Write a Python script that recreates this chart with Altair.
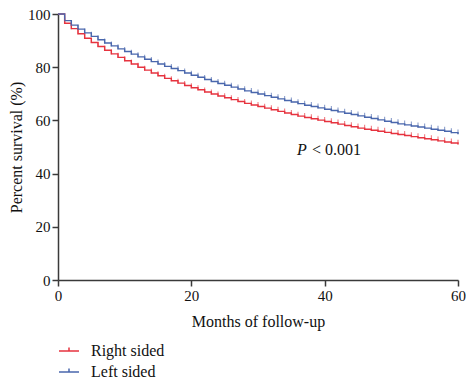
import altair as alt
import pandas as pd

months = list(range(0, 61))

right_sided = [100, 96.5, 94.5, 92.6, 90.9, 89.3, 87.8, 86.4, 85.0, 83.7,
               82.4, 81.2, 80.0, 78.9, 77.8, 76.8, 75.8, 74.9, 74.0, 73.1,
               72.3, 71.5, 70.7, 69.9, 69.2, 68.5, 67.8, 67.1, 66.4, 65.8,
               65.2, 64.6, 64.0, 63.4, 62.8, 62.2, 61.6, 61.1, 60.6, 60.1,
               59.6, 59.1, 58.6, 58.1, 57.6, 57.1, 56.7, 56.3, 55.9, 55.5,
               55.1, 54.7, 54.3, 53.9, 53.5, 53.1, 52.7, 52.3, 51.9, 51.5,
               51.0]

left_sided = [100, 97.5, 95.8, 94.3, 92.9, 91.6, 90.3, 89.1, 88.0, 86.9,
              85.9, 84.9, 83.9, 83.0, 82.1, 81.2, 80.3, 79.5, 78.7, 77.8,
              77.0, 76.2, 75.4, 74.6, 73.9, 73.2, 72.5, 71.8, 71.1, 70.5,
              69.9, 69.3, 68.7, 68.1, 67.5, 66.9, 66.3, 65.7, 65.2, 64.7,
              64.2, 63.7, 63.2, 62.7, 62.2, 61.7, 61.2, 60.7, 60.2, 59.7,
              59.2, 58.7, 58.3, 57.9, 57.5, 57.1, 56.7, 56.3, 55.9, 55.4,
              54.9]

groups = ["Right sided", "Left sided"]
colors = ["#e6333f", "#4a67ad"]

x_ticks = [0, 20, 40, 60]
y_ticks = [0, 20, 40, 60, 80, 100]

p_label_x = [37.3]
p_label_y = [48.8]
p_rest_x = [38.1]

rows = []
for g, vals in zip(groups, [right_sided, left_sided]):
    for m, v in zip(months, vals):
        rows.append({"month": m, "survival": v, "group": g})
df = pd.DataFrame(rows)
censor = df[df["month"] > 0]

SERIF = "Times New Roman, Liberation Serif, DejaVu Serif, serif"

x_enc = alt.X("month:Q",
              scale=alt.Scale(domain=[0, 60], nice=False),
              axis=alt.Axis(values=x_ticks, title="Months of follow-up",
                            labelFlush=False, titlePadding=10))
y_enc = alt.Y("survival:Q",
              scale=alt.Scale(domain=[0, 100], nice=False),
              axis=alt.Axis(values=y_ticks, title="Percent survival (%)",
                            titlePadding=3))
color_enc = alt.Color("group:N",
                      scale=alt.Scale(domain=groups, range=colors),
                      legend=alt.Legend(title=None, orient="none",
                                        legendX=0, legendY=326,
                                        symbolType="M-1,0H1M0,0V-0.35",
                                        symbolSize=400,
                                        symbolStrokeWidth=1.5,
                                        labelFont=SERIF, labelFontSize=16,
                                        labelColor="#111",
                                        labelOffset=11,
                                        rowPadding=2, padding=0))

lines = alt.Chart(df).mark_line(interpolate="step-after", strokeWidth=1.4).encode(
    x=x_enc, y=y_enc, color=color_enc, detail="group:N")

ticks = alt.Chart(censor).mark_tick(orient="vertical", size=5, thickness=1, yOffset=-2).encode(
    x="month:Q", y="survival:Q",
    color=alt.Color("group:N", scale=alt.Scale(domain=groups, range=colors), legend=None))

p_df = pd.DataFrame({"x": p_label_x, "y": p_label_y, "t": ["P"]})
rest_df = pd.DataFrame({"x": p_rest_x, "y": p_label_y, "t": ["< 0.001"]})

p_text = alt.Chart(p_df).mark_text(font=SERIF, fontSize=16, fontStyle="italic",
                                   align="right", baseline="middle", color="#111").encode(
    x="x:Q", y="y:Q", text="t:N")
rest_text = alt.Chart(rest_df).mark_text(font=SERIF, fontSize=16,
                                         align="left", baseline="middle", color="#111").encode(
    x="x:Q", y="y:Q", text="t:N")

chart = alt.layer(lines, ticks, p_text, rest_text).properties(
    width=400, height=266,
    autosize=alt.AutoSizeParams(type="none"),
    padding={"left": 50, "top": 6, "right": 8, "bottom": 102},
).configure_view(stroke=None).configure_axis(
    grid=False,
    domainColor="#3a3a3a", domainWidth=1.5,
    tickColor="#3a3a3a", tickWidth=1.5, tickSize=6,
    labelFont=SERIF, labelFontSize=15, labelColor="#111", labelPadding=2,
    titleFont=SERIF, titleFontSize=16, titleFontWeight="normal", titleColor="#111",
)

chart.save("out.html", embed_options={"renderer": "svg", "actions": False})
